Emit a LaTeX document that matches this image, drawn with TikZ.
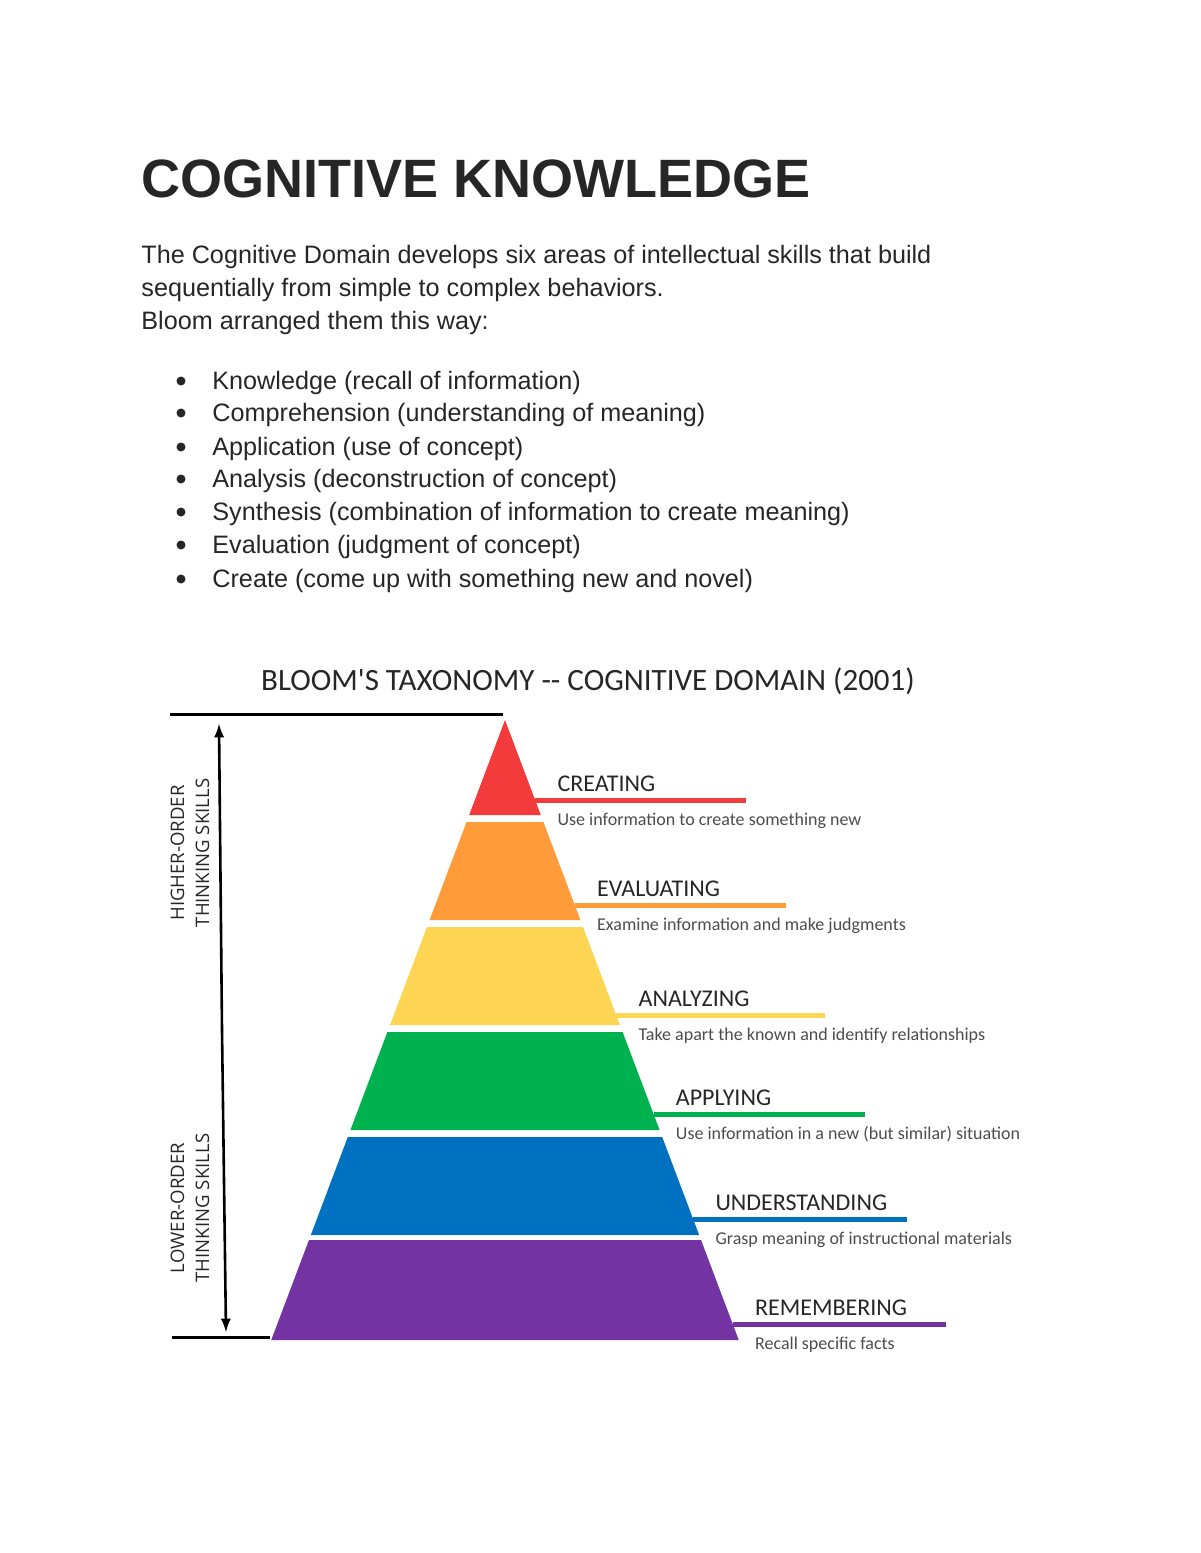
\documentclass[tikz,border=0pt]{standalone}
\usepackage{fontspec}
\setmainfont{Liberation Sans}
\newfontfamily\carlfont{Carlito}
\newfontfamily\osans{Open Sans}
\begin{document}
\begin{tikzpicture}[x=0.5pt,y=-0.5pt,
  txt/.style={anchor=base west,inner sep=0pt},
  lvl/.style={txt,font=\carlfont\fontsize{12}{12}\selectfont,text=black!85},
  dsc/.style={txt,font=\carlfont\fontsize{9}{9}\selectfont,text=black!70},
  rot/.style={rotate=90,align=center,font=\osans\fontsize{9.3}{12.5}\selectfont,text=black!85,inner sep=0pt},
  band/.style={draw=none}]
\definecolor{cr}{HTML}{F43B3B}\definecolor{co}{HTML}{FF9B38}
\definecolor{cy}{HTML}{FFD653}\definecolor{cg}{HTML}{00B150}
\definecolor{cb}{HTML}{0070C0}\definecolor{cp}{HTML}{7433A2}
\useasboundingbox (0,0) rectangle (1200,1553);
\node[txt,font=\bfseries\fontsize{27}{27}\selectfont,text=black!85] (t) at (141,197) {COGNITIVE KNOWLEDGE};
\node[txt,font=\fontsize{12.6}{16.5}\selectfont,text=black!85] (p1) at (141,263) {The Cognitive Domain develops six areas of intellectual skills that build};
\node[txt,font=\fontsize{12.6}{16.5}\selectfont,text=black!85] (p2) at (141,296) {sequentially from simple to complex behaviors.};
\node[txt,font=\fontsize{12.6}{16.5}\selectfont,text=black!85] (p3) at (141,329) {Bloom arranged them this way:};
\foreach \y/\s [count=\i] in {389/Knowledge (recall of information),421/Comprehension (understanding of meaning),455/Application (use of concept),487/Analysis (deconstruction of concept),520/Synthesis (combination of information to create meaning),553/Evaluation (judgment of concept),587/Create (come up with something new and novel)}{
  \fill[black!85] (181,\y-8) circle (4.5);
  \node[txt,font=\fontsize{12.6}{16.5}\selectfont,text=black!85] (b\i) at (212,\y) {\s};
}
\node[font=\carlfont\fontsize{15.5}{15.5}\selectfont,text=black!85,inner sep=0pt] (bt) at (588,681) {BLOOM'S TAXONOMY -- COGNITIVE DOMAIN (2001)};
\def\k{0.377}
\foreach \a/\b/\c [count=\i] in {720/815/cr,822/920/co,927/1025/cy,1032/1130/cg,1137/1235/cb,1240/1340/cp}{
  \fill[\c] ({505-(\a-720)*\k},\a) -- ({505+(\a-720)*\k},\a) -- ({505+(\b-720)*\k},\b) -- ({505-(\b-720)*\k},\b) -- cycle;
}
\foreach \y/\e/\c/\l/\d [count=\i] in {800/746/cr/CREATING/Use information to create something new,
  905/786/co/EVALUATING/Examine information and make judgments,
  1015/825/cy/ANALYZING/Take apart the known and identify relationships,
  1114/865/cg/APPLYING/Use information in a new (but similar) situation,
  1219/907/cb/UNDERSTANDING/Grasp meaning of instructional materials,
  1324/946/cp/REMEMBERING/Recall specific facts}{
  \draw[\c,line width=2.5pt] ({505+(\y-720)*\k},\y) -- (\e,\y);
  \node[lvl] (l\i) at ({505+(\y-720)*\k+22},\y-9) {\l};
  \node[dsc] (d\i) at ({505+(\y-720)*\k+22},\y+25) {\d};
}
\draw[black,line width=1.5pt] (170,714) -- (503,714);
\draw[black,line width=1.5pt] (172,1337) -- (270,1337);
\draw[line width=1.3pt,-latex] (222,1030) -- (219,724);
\draw[line width=1.3pt,-latex] (222,1030) -- (226,1332);
\node[rot] (hi) at (190,853) {HIGHER-ORDER\\THINKING SKILLS};
\node[rot] (lo) at (190,1208) {LOWER-ORDER\\THINKING SKILLS};
\end{tikzpicture}
\end{document}
